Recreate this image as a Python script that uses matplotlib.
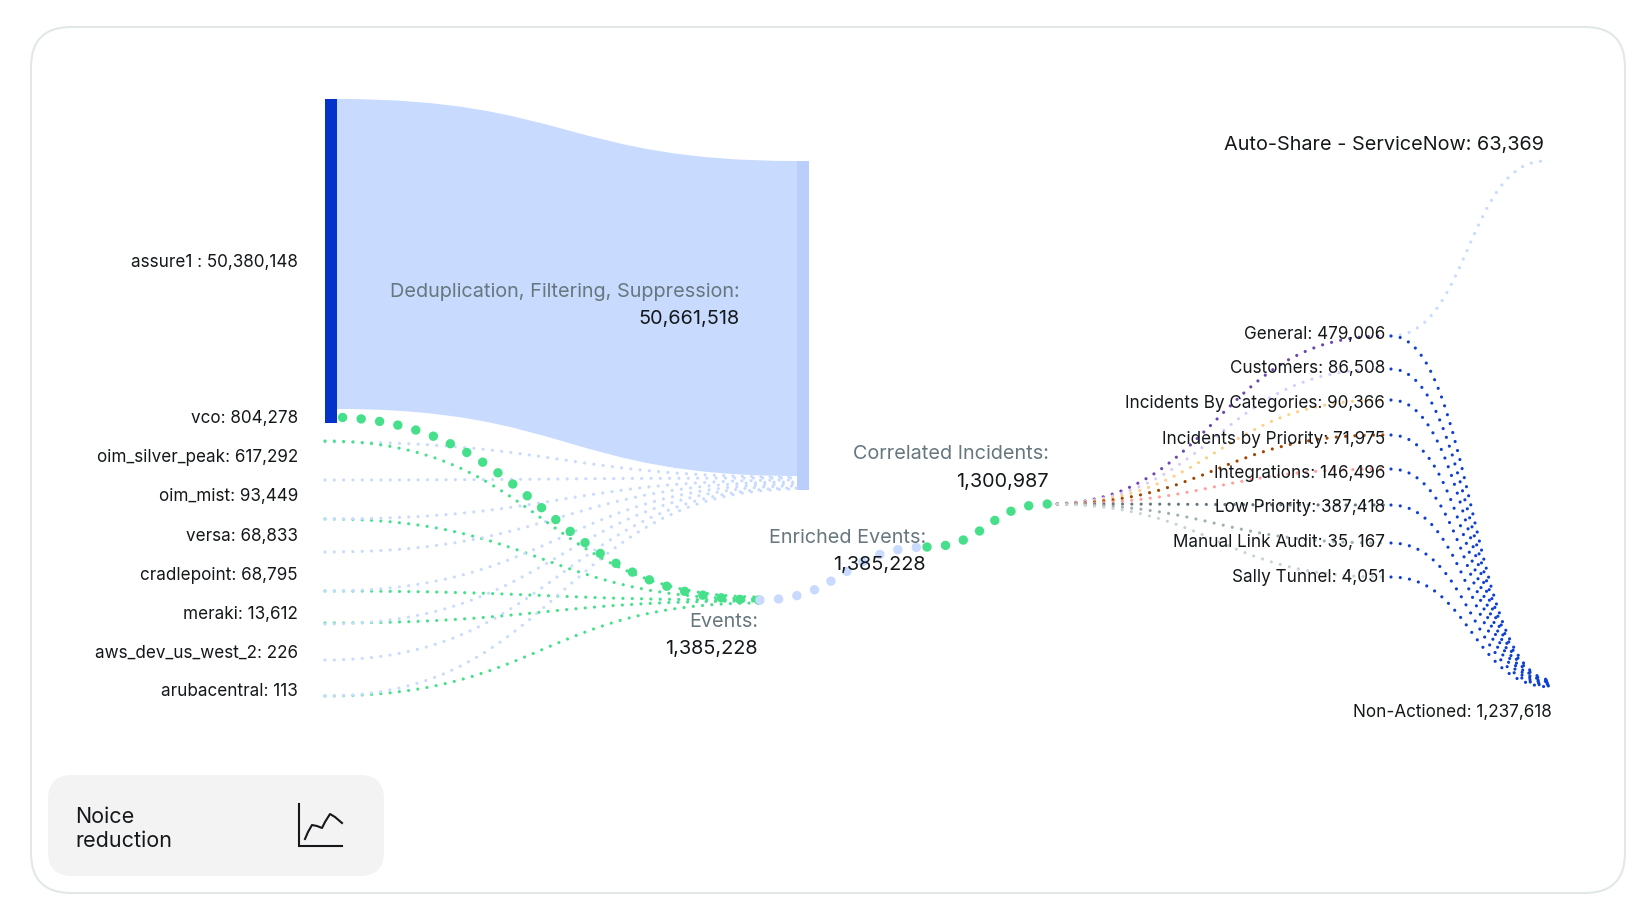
#!/usr/bin/env python
# -*- coding: utf-8 -*-
import matplotlib
matplotlib.use('Agg')
import matplotlib.pyplot as plt
from matplotlib.patches import FancyBboxPatch, PathPatch, Rectangle
from matplotlib.path import Path

plt.rcParams['font.family'] = ['Inter', 'DejaVu Sans']
plt.rcParams['lines.scale_dashes'] = False

# ================== data ==================
source_names = ['assure1 ', 'vco', 'oim_silver_peak', 'oim_mist', 'versa',
                'cradlepoint', 'meraki', 'aws_dev_us_west_2', 'arubacentral']
source_values = ['50,380,148', '804,278', '617,292', '93,449', '68,833',
                 '68,795', '13,612', '226', '113']
target_names = ['General', 'Customers', 'Incidents By Categories', 'Incidents by Priority',
                'Integrations', 'Low Priority', 'Manual Link Audit', 'Sally Tunnel']
target_values = ['479,006', '86,508', '90,366', '71,975', '146,496', '387,418', '35, 167', '4,051']
dedup_value = '50,661,518'
events_value = '1,385,228'
enriched_value = '1,385,228'
correlated_value = '1,300,987'
autoshare_value = '63,369'
nonactioned_value = '1,237,618'

# ================== layout (pixels) ==================
W, H = 1651, 924
source_label_y = [263, 419, 458, 497, 536, 575, 614, 653, 692]
target_label_y = [335, 369, 404, 439, 473, 507, 542, 577]
blue_start_y = [442, 480, 519, 552, 591, 624, 660, 696]
blue_end_y = [477, 478, 480, 482, 484, 486, 488, 489]
green_start_y = [441, 519, 591, 623, 696]
green_end_y = [597, 599, 600, 601, 603]
target_flow_y = [336, 369, 400, 435, 469, 505, 543, 577]
nonact_y = [680, 681, 682, 683, 684, 685, 686, 687]

INK = '#14181a'
MUTED = '#66777e'
LIGHT = '#c8dbff'
GREEN = '#46e08b'
BLUE = '#0d3fd0'
target_colors = ['#6b46b0', '#d8ccff', '#ffcf87', '#a04400', '#ff9f9f', '#66777e', '#9fb0b0', '#c8d3d3']
FS = 12.3
FS_BIG = 14.3


def sankey_path(x0, y0, x1, y1):
    xm = (x0 + x1) / 2
    return Path([(x0, y0), (xm, y0), (xm, y1), (x1, y1)],
                [Path.MOVETO, Path.CURVE4, Path.CURVE4, Path.CURVE4])


def dotted(ax, x0, y0, x1, y1, color, size=3.2, gap=9.3, z=3, skip=0):
    # size, gap and skip come in pixels, dashes want points
    pt = 72 / fig.dpi
    ax.add_patch(PathPatch(sankey_path(x0, y0, x1, y1), fill=False, edgecolor=color,
                           linewidth=size * pt, capstyle='round',
                           linestyle=(skip * pt, (0.01, gap * pt)), zorder=z))


fig = plt.figure(figsize=(W / 100, H / 100), dpi=100, facecolor='white')
ax = fig.add_axes([0, 0, 1, 1])
ax.set_xlim(0, W)
ax.set_ylim(H, 0)
ax.axis('off')

# card and badge
ax.add_patch(FancyBboxPatch((31, 27), 1594, 866, boxstyle='round,pad=0,rounding_size=40',
                            facecolor='white', edgecolor='#e1e8e7', linewidth=1.5, zorder=0))
ax.add_patch(FancyBboxPatch((48, 775), 336, 101, boxstyle='round,pad=0,rounding_size=24',
                            facecolor='#f3f3f3', edgecolor='none', zorder=1))

# big flow
flow = Path([(337, 99), (567, 99), (567, 161), (797, 161),
             (797, 476), (567, 476), (567, 409), (337, 409), (337, 99)],
            [Path.MOVETO, Path.CURVE4, Path.CURVE4, Path.CURVE4,
             Path.LINETO, Path.CURVE4, Path.CURVE4, Path.CURVE4, Path.CLOSEPOLY])
ax.add_patch(PathPatch(flow, facecolor=LIGHT, edgecolor='none', zorder=2))
ax.add_patch(Rectangle((325, 99), 12, 324, facecolor='#0433c9', edgecolor='none', zorder=5.5))
ax.add_patch(Rectangle((797, 161), 12, 329, facecolor='#b9cefa', edgecolor='none', zorder=2))

# sources to events: only the first thin flow sits above the light ones
for i, (y0, y1) in enumerate(zip(green_start_y, green_end_y)):
    dotted(ax, 325, y0, 760, y1, GREEN, z=4 if i == 0 else 2.5)
dotted(ax, 325, 417, 760, 600, GREEN, size=9.5, gap=18.6, z=5, skip=1)

# sources to dedup
for y0, y1 in zip(blue_start_y, blue_end_y):
    dotted(ax, 325, y0, 797, y1, LIGHT)

# events, enriched, correlated
dotted(ax, 760, 600, 927, 547, LIGHT, size=9.5, gap=18.6, z=5)
dotted(ax, 927, 547, 1048, 504, GREEN, size=9.5, gap=18.6, z=5)

# correlated to targets, targets to non-actioned
for y0, y1, c in zip(target_flow_y, nonact_y, target_colors):
    dotted(ax, 1048, 504, 1384, y0, c, z=4)
    dotted(ax, 1391, y0, 1552, y1, BLUE, z=4)
dotted(ax, 1391, 336, 1545, 161, LIGHT, z=3)

# labels
for name, val, y in zip(source_names, source_values, source_label_y):
    ax.text(298, y, f'{name}: {val}', ha='right', va='center', fontsize=FS, color=INK, zorder=6)
for name, val, y in zip(target_names, target_values, target_label_y):
    ax.text(1385, y, f'{name}: {val}', ha='right', va='center', fontsize=FS, color=INK, zorder=6)

ax.text(740, 292, 'Deduplication, Filtering, Suppression:', ha='right', va='center', fontsize=FS_BIG, color=MUTED, zorder=6)
ax.text(740, 319, dedup_value, ha='right', va='center', fontsize=FS_BIG, color=INK, zorder=6)
ax.text(758, 622, 'Events:', ha='right', va='center', fontsize=FS_BIG, color=MUTED, zorder=6)
ax.text(758, 649, events_value, ha='right', va='center', fontsize=FS_BIG, color=INK, zorder=6)
ax.text(926, 538, 'Enriched Events:', ha='right', va='center', fontsize=FS_BIG, color=MUTED, zorder=6)
ax.text(926, 565, enriched_value, ha='right', va='center', fontsize=FS_BIG, color=INK, zorder=6)
ax.text(1049, 454, 'Correlated Incidents:', ha='right', va='center', fontsize=FS_BIG, color=MUTED, zorder=6)
ax.text(1049, 482, correlated_value, ha='right', va='center', fontsize=FS_BIG, color=INK, zorder=6)
ax.text(1544, 145, f'Auto-Share - ServiceNow: {autoshare_value}', ha='right', va='center', fontsize=FS_BIG, color=INK, zorder=6)
ax.text(1552, 713, f'Non-Actioned: {nonactioned_value}', ha='right', va='center', fontsize=FS, color=INK, zorder=6)

# badge text and icon
ax.text(75, 817, 'Noice', ha='left', va='center', fontsize=15.5, color=INK, zorder=6)
ax.text(75, 841, 'reduction', ha='left', va='center', fontsize=15.5, color=INK, zorder=6)
ax.plot([299, 299, 342], [804, 846, 846], color=INK, lw=1.5, solid_joinstyle='miter', zorder=6)
ax.plot([305, 308, 312, 317, 322, 325, 330, 335, 342], [839, 832, 825, 826, 828, 822, 814, 817, 823],
        color=INK, lw=1.5, zorder=6)

fig.savefig('out.png', dpi=100, facecolor='white')
